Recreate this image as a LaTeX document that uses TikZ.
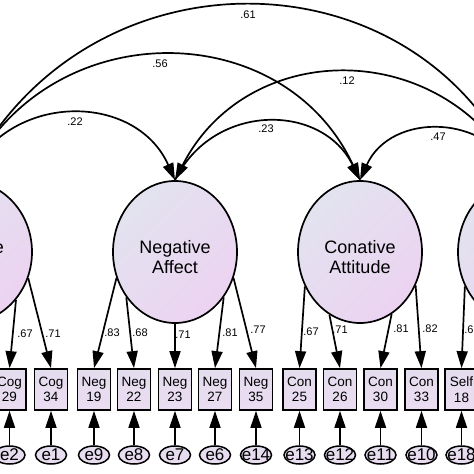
\documentclass[tikz,border=0pt]{standalone}
\usepackage{fontspec}
\setmainfont{Liberation Sans}
\usetikzlibrary{arrows.meta,shapes.geometric}
\definecolor{latentA}{HTML}{E2E3EF}
\definecolor{latentB}{HTML}{ECD3F1}
\definecolor{itemA}{HTML}{E3DDEE}
\definecolor{itemB}{HTML}{EBDCF1}
\tikzset{
  latent/.style={ellipse, draw, line width=1.7pt, minimum width=124pt, minimum height=142pt, inner sep=0pt,
    top color=latentA, bottom color=latentB, shading angle=45, align=center, font=\fontsize{18}{20}\selectfont},
  item/.style={rectangle, draw, line width=1.7pt, minimum width=33pt, minimum height=41pt, inner sep=0pt,
    top color=itemA, bottom color=itemB, align=center, font=\fontsize{13.5}{15.5}\selectfont},
  err/.style={ellipse, draw, line width=1.5pt, minimum width=31pt, minimum height=18pt, inner sep=0pt,
    top color=itemA, bottom color=itemB},
  errtext/.style={font=\fontsize{17}{17}\selectfont, inner sep=0pt},
  weight/.style={font=\fontsize{11}{11}\selectfont, inner sep=0pt},
  regress/.style={line width=1.7pt, -{Triangle[length=17pt,width=11pt]}},
  arcpath/.style={regress, looseness=1.2}
}
\newcommand{\lowertext}{\rule{0pt}{23pt}}
\begin{document}
\begin{tikzpicture}[x=1pt,y=1pt]
        \useasboundingbox (0,0) rectangle (474,474);
        \fill[white] (0,0) rectangle (474,474);
        \clip (0,0) rectangle (474,474);
        \node[latent, minimum width=131pt] (cog) at (-33.5,222) {\lowertext Cognitive\\Attitude};
        \node[latent] (neg) at (175,222) {\lowertext Negative\\Affect};
        \node[latent] (con) at (360,222) {\lowertext Conative\\Attitude};
        \node[latent] (self) at (520,222) {};
        \draw[arcpath] (cog.north) to[out=66,in=114] (neg.north);
        \draw[arcpath] (cog.north) to[out=65,in=115] (con.north);
        \draw[arcpath] (cog.north) to[out=64,in=116] (self.north);
        \draw[arcpath] (self.north) to[out=117,in=63] (neg.north);
        \draw[arcpath] (neg.north) to[out=64,in=116] (con.north);
        \draw[arcpath] (self.north) to[out=114,in=66] (con.north);
        \node[weight] (w22) at (75,352) {.22};
        \node[weight] (w56) at (160,410) {.56};
        \node[weight] (w61) at (248,459) {.61};
        \node[weight] (w12) at (347,393) {.12};
        \node[weight] (w23) at (266,345) {.23};
        \node[weight] (w47) at (438,337) {.47};
        \node[item] (cog29) at (9.5,84.5) {Cog\\29};
        \node[item] (cog34) at (51,84.5) {Cog\\34};
        \node[item] (neg19) at (94,84.5) {Neg\\19};
        \node[item] (neg22) at (134,84.5) {Neg\\22};
        \node[item] (neg23) at (175,84.5) {Neg\\23};
        \node[item] (neg27) at (215,84.5) {Neg\\27};
        \node[item] (neg35) at (256,84.5) {Neg\\35};
        \node[item] (con25) at (299.5,84.5) {Con\\25};
        \node[item] (con26) at (340,84.5) {Con\\26};
        \node[item] (con30) at (380.5,84.5) {Con\\30};
        \node[item] (con33) at (421.5,84.5) {Con\\33};
        \node[item] (self18) at (461.5,84.5) {Self\\18};
        \draw[regress] (cog.316) -- (cog29.north);
        \draw[regress] (cog.337) -- (cog34.north);
        \draw[regress] (neg.204) -- (neg19.north);
        \draw[regress] (neg.223) -- (neg22.north);
        \draw[regress] (neg.270) -- (neg23.north);
        \draw[regress] (neg.317) -- (neg27.north);
        \draw[regress] (neg.336) -- (neg35.north);
        \draw[regress] (con.212) -- (con25.north);
        \draw[regress] (con.244) -- (con26.north);
        \draw[regress] (con.297) -- (con30.north);
        \draw[regress] (con.329) -- (con33.north);
        \draw[regress] (self.212) -- (self18.north);
        \node[weight] (l2) at (25,140) {.67};
        \node[weight] (l1) at (53,140) {.71};
        \node[weight] (l9) at (112,141) {.83};
        \node[weight] (l8) at (140,141) {.68};
        \node[weight] (l7) at (183,139) {.71};
        \node[weight] (l6) at (230,141) {.81};
        \node[weight] (l14) at (258,144) {.77};
        \node[weight] (l13) at (311,142) {.67};
        \node[weight] (l12) at (340,144) {.71};
        \node[weight] (l11) at (401,145) {.81};
        \node[weight] (l10) at (430,145) {.82};
        \node[weight] (l18) at (469,144) {.6};
        \node[err, label={[errtext]center:e2}] (e2) at (9.5,19) {};
        \node[err, label={[errtext]center:e1}] (e1) at (51,19) {};
        \node[err, label={[errtext]center:e9}] (e9) at (94,19) {};
        \node[err, label={[errtext]center:e8}] (e8) at (134,19) {};
        \node[err, label={[errtext]center:e7}] (e7) at (175,19) {};
        \node[err, label={[errtext]center:e6}] (e6) at (215,19) {};
        \node[err, label={[errtext]center:e14}] (e14) at (256,19) {};
        \node[err, label={[errtext]center:e13}] (e13) at (299.5,19) {};
        \node[err, label={[errtext]center:e12}] (e12) at (340,19) {};
        \node[err, label={[errtext]center:e11}] (e11) at (380.5,19) {};
        \node[err, label={[errtext]center:e10}] (e10) at (421.5,19) {};
        \node[err, label={[errtext]center:e18}] (e18) at (461.5,19) {};
        \draw[regress] (e2.north) -- (cog29.south);
        \draw[regress] (e1.north) -- (cog34.south);
        \draw[regress] (e9.north) -- (neg19.south);
        \draw[regress] (e8.north) -- (neg22.south);
        \draw[regress] (e7.north) -- (neg23.south);
        \draw[regress] (e6.north) -- (neg27.south);
        \draw[regress] (e14.north) -- (neg35.south);
        \draw[regress] (e13.north) -- (con25.south);
        \draw[regress] (e12.north) -- (con26.south);
        \draw[regress] (e11.north) -- (con30.south);
        \draw[regress] (e10.north) -- (con33.south);
        \draw[regress] (e18.north) -- (self18.south);
\end{tikzpicture}
\end{document}
